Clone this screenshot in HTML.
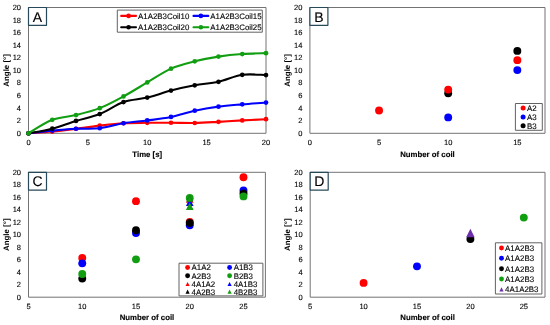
<!DOCTYPE html>
<html><head><meta charset="utf-8"><title>Figure</title>
<style>
html,body{margin:0;padding:0;background:#fff;}
body{width:550px;height:325px;overflow:hidden;}
svg{display:block;filter:blur(0.32px);stroke-linejoin:round;text-rendering:geometricPrecision;font-family:"Liberation Sans",Arial,sans-serif;fill:#000;}
</style></head><body>
<svg width="550" height="325" viewBox="0 0 550 325">
<rect x="0" y="0" width="550" height="325" fill="#ffffff"/>
<rect x="28.5" y="7.5" width="237.5" height="125.80000000000001" fill="#fff" stroke="#737373" stroke-width="1"/>
<text x="21.00" y="135.75" font-size="7.5" text-anchor="end" stroke="#000" stroke-width="0.12">0</text>
<text x="21.00" y="123.17" font-size="7.5" text-anchor="end" stroke="#000" stroke-width="0.12">2</text>
<text x="21.00" y="110.59" font-size="7.5" text-anchor="end" stroke="#000" stroke-width="0.12">4</text>
<text x="21.00" y="98.01" font-size="7.5" text-anchor="end" stroke="#000" stroke-width="0.12">6</text>
<text x="21.00" y="85.43" font-size="7.5" text-anchor="end" stroke="#000" stroke-width="0.12">8</text>
<text x="21.00" y="72.85" font-size="7.5" text-anchor="end" stroke="#000" stroke-width="0.12">10</text>
<text x="21.00" y="60.27" font-size="7.5" text-anchor="end" stroke="#000" stroke-width="0.12">12</text>
<text x="21.00" y="47.69" font-size="7.5" text-anchor="end" stroke="#000" stroke-width="0.12">14</text>
<text x="21.00" y="35.11" font-size="7.5" text-anchor="end" stroke="#000" stroke-width="0.12">16</text>
<text x="21.00" y="22.53" font-size="7.5" text-anchor="end" stroke="#000" stroke-width="0.12">18</text>
<text x="21.00" y="9.95" font-size="7.5" text-anchor="end" stroke="#000" stroke-width="0.12">20</text>
<text x="28.50" y="145.20" font-size="7.5" text-anchor="middle" stroke="#000" stroke-width="0.12">0</text>
<text x="87.88" y="145.20" font-size="7.5" text-anchor="middle" stroke="#000" stroke-width="0.12">5</text>
<text x="147.25" y="145.20" font-size="7.5" text-anchor="middle" stroke="#000" stroke-width="0.12">10</text>
<text x="206.62" y="145.20" font-size="7.5" text-anchor="middle" stroke="#000" stroke-width="0.12">15</text>
<text x="266.00" y="145.20" font-size="7.5" text-anchor="middle" stroke="#000" stroke-width="0.12">20</text>
<text x="147.25" y="156.70" font-size="7.8" text-anchor="middle" stroke="#000" stroke-width="0.12" font-weight="bold">Time [s]</text>
<text transform="translate(9.3,70.40) rotate(-90)" font-size="7.9" font-weight="bold" text-anchor="middle">Angle [°]</text>
<rect x="28.5" y="7.5" width="18" height="17.8" fill="#fff" stroke="#27495a" stroke-width="1.2"/>
<text x="37.50" y="21.50" font-size="14" text-anchor="middle" stroke="#000" stroke-width="0.12">A</text>
<path d="M28.50,133.30 C32.46,133.01 44.33,132.29 52.25,131.54 C60.17,130.78 68.08,129.76 76.00,128.77 C83.92,127.79 91.83,126.55 99.75,125.63 C107.67,124.70 115.58,123.71 123.50,123.24 C131.42,122.76 139.33,122.88 147.25,122.80 C155.17,122.71 163.08,122.70 171.00,122.73 C178.92,122.76 186.83,123.13 194.75,122.98 C202.67,122.84 210.58,122.28 218.50,121.85 C226.42,121.42 234.33,120.85 242.25,120.41 C250.17,119.97 262.04,119.41 266.00,119.21" fill="none" stroke="#ff0000" stroke-width="2.1" stroke-linecap="round" stroke-linejoin="round"/>
<circle cx="28.50" cy="133.30" r="2.35" fill="#ff0000"/>
<circle cx="52.25" cy="131.54" r="2.35" fill="#ff0000"/>
<circle cx="76.00" cy="128.77" r="2.35" fill="#ff0000"/>
<circle cx="99.75" cy="125.63" r="2.35" fill="#ff0000"/>
<circle cx="123.50" cy="123.24" r="2.35" fill="#ff0000"/>
<circle cx="147.25" cy="122.80" r="2.35" fill="#ff0000"/>
<circle cx="171.00" cy="122.73" r="2.35" fill="#ff0000"/>
<circle cx="194.75" cy="122.98" r="2.35" fill="#ff0000"/>
<circle cx="218.50" cy="121.85" r="2.35" fill="#ff0000"/>
<circle cx="242.25" cy="120.41" r="2.35" fill="#ff0000"/>
<circle cx="266.00" cy="119.21" r="2.35" fill="#ff0000"/>
<path d="M28.50,133.30 C32.46,132.85 44.33,131.35 52.25,130.60 C60.17,129.84 68.08,129.16 76.00,128.77 C83.92,128.38 91.83,129.19 99.75,128.27 C107.67,127.35 115.58,124.54 123.50,123.24 C131.42,121.94 139.33,121.52 147.25,120.47 C155.17,119.42 163.08,118.57 171.00,116.95 C178.92,115.32 186.83,112.44 194.75,110.72 C202.67,109.00 210.58,107.69 218.50,106.63 C226.42,105.57 234.33,105.05 242.25,104.37 C250.17,103.68 262.04,102.85 266.00,102.54" fill="none" stroke="#0000ff" stroke-width="2.1" stroke-linecap="round" stroke-linejoin="round"/>
<circle cx="28.50" cy="133.30" r="2.35" fill="#0000ff"/>
<circle cx="52.25" cy="130.60" r="2.35" fill="#0000ff"/>
<circle cx="76.00" cy="128.77" r="2.35" fill="#0000ff"/>
<circle cx="99.75" cy="128.27" r="2.35" fill="#0000ff"/>
<circle cx="123.50" cy="123.24" r="2.35" fill="#0000ff"/>
<circle cx="147.25" cy="120.47" r="2.35" fill="#0000ff"/>
<circle cx="171.00" cy="116.95" r="2.35" fill="#0000ff"/>
<circle cx="194.75" cy="110.72" r="2.35" fill="#0000ff"/>
<circle cx="218.50" cy="106.63" r="2.35" fill="#0000ff"/>
<circle cx="242.25" cy="104.37" r="2.35" fill="#0000ff"/>
<circle cx="266.00" cy="102.54" r="2.35" fill="#0000ff"/>
<path d="M28.50,133.30 C32.46,132.53 44.33,130.77 52.25,128.71 C60.17,126.64 68.08,123.35 76.00,120.91 C83.92,118.47 91.83,117.20 99.75,114.05 C107.67,110.91 115.58,104.79 123.50,102.04 C131.42,99.29 139.33,99.49 147.25,97.57 C155.17,95.65 163.08,92.57 171.00,90.53 C178.92,88.48 186.83,86.76 194.75,85.31 C202.67,83.85 210.58,83.54 218.50,81.78 C226.42,80.03 234.33,75.92 242.25,74.80 C250.17,73.68 262.04,75.01 266.00,75.05" fill="none" stroke="#000000" stroke-width="2.1" stroke-linecap="round" stroke-linejoin="round"/>
<circle cx="28.50" cy="133.30" r="2.35" fill="#000000"/>
<circle cx="52.25" cy="128.71" r="2.35" fill="#000000"/>
<circle cx="76.00" cy="120.91" r="2.35" fill="#000000"/>
<circle cx="99.75" cy="114.05" r="2.35" fill="#000000"/>
<circle cx="123.50" cy="102.04" r="2.35" fill="#000000"/>
<circle cx="147.25" cy="97.57" r="2.35" fill="#000000"/>
<circle cx="171.00" cy="90.53" r="2.35" fill="#000000"/>
<circle cx="194.75" cy="85.31" r="2.35" fill="#000000"/>
<circle cx="218.50" cy="81.78" r="2.35" fill="#000000"/>
<circle cx="242.25" cy="74.80" r="2.35" fill="#000000"/>
<circle cx="266.00" cy="75.05" r="2.35" fill="#000000"/>
<path d="M28.50,133.30 C32.46,131.05 44.33,122.82 52.25,119.78 C60.17,116.74 68.08,117.00 76.00,115.06 C83.92,113.12 91.83,111.25 99.75,108.14 C107.67,105.03 115.58,100.67 123.50,96.38 C131.42,92.09 139.33,87.04 147.25,82.41 C155.17,77.79 163.08,72.15 171.00,68.64 C178.92,65.13 186.83,63.34 194.75,61.34 C202.67,59.34 210.58,57.84 218.50,56.62 C226.42,55.41 234.33,54.62 242.25,54.05 C250.17,53.47 262.04,53.31 266.00,53.17" fill="none" stroke="#129e12" stroke-width="2.1" stroke-linecap="round" stroke-linejoin="round"/>
<circle cx="28.50" cy="133.30" r="2.35" fill="#129e12"/>
<circle cx="52.25" cy="119.78" r="2.35" fill="#129e12"/>
<circle cx="76.00" cy="115.06" r="2.35" fill="#129e12"/>
<circle cx="99.75" cy="108.14" r="2.35" fill="#129e12"/>
<circle cx="123.50" cy="96.38" r="2.35" fill="#129e12"/>
<circle cx="147.25" cy="82.41" r="2.35" fill="#129e12"/>
<circle cx="171.00" cy="68.64" r="2.35" fill="#129e12"/>
<circle cx="194.75" cy="61.34" r="2.35" fill="#129e12"/>
<circle cx="218.50" cy="56.62" r="2.35" fill="#129e12"/>
<circle cx="242.25" cy="54.05" r="2.35" fill="#129e12"/>
<circle cx="266.00" cy="53.17" r="2.35" fill="#129e12"/>
<rect x="117.3" y="10.1" width="145" height="22.1" fill="#fff" stroke="#626262" stroke-width="1"/>
 <line x1="121.2" y1="15.9" x2="136.0" y2="15.9" stroke="#ff0000" stroke-width="2.1" stroke-linecap="round"/>
<circle cx="128.60" cy="15.90" r="2.3" fill="#ff0000"/>
<text x="138.00" y="18.75" font-size="7.9" text-anchor="start" stroke="#000" stroke-width="0.12">A1A2B3Coil10</text>
 <line x1="193.5" y1="15.9" x2="208.3" y2="15.9" stroke="#0000ff" stroke-width="2.1" stroke-linecap="round"/>
<circle cx="200.90" cy="15.90" r="2.3" fill="#0000ff"/>
<text x="210.30" y="18.75" font-size="7.9" text-anchor="start" stroke="#000" stroke-width="0.12">A1A2B3Coil15</text>
 <line x1="121.2" y1="27.3" x2="136.0" y2="27.3" stroke="#000000" stroke-width="2.1" stroke-linecap="round"/>
<circle cx="128.60" cy="27.30" r="2.3" fill="#000000"/>
<text x="138.00" y="30.15" font-size="7.9" text-anchor="start" stroke="#000" stroke-width="0.12">A1A2B3Coil20</text>
 <line x1="193.5" y1="27.3" x2="208.3" y2="27.3" stroke="#129e12" stroke-width="2.1" stroke-linecap="round"/>
<circle cx="200.90" cy="27.30" r="2.3" fill="#129e12"/>
<text x="210.30" y="30.15" font-size="7.9" text-anchor="start" stroke="#000" stroke-width="0.12">A1A2B3Coil25</text>
<rect x="309.9" y="7.5" width="235.10000000000002" height="125.80000000000001" fill="#fff" stroke="#737373" stroke-width="1"/>
<text x="302.40" y="135.75" font-size="7.5" text-anchor="end" stroke="#000" stroke-width="0.12">0</text>
<text x="302.40" y="123.17" font-size="7.5" text-anchor="end" stroke="#000" stroke-width="0.12">2</text>
<text x="302.40" y="110.59" font-size="7.5" text-anchor="end" stroke="#000" stroke-width="0.12">4</text>
<text x="302.40" y="98.01" font-size="7.5" text-anchor="end" stroke="#000" stroke-width="0.12">6</text>
<text x="302.40" y="85.43" font-size="7.5" text-anchor="end" stroke="#000" stroke-width="0.12">8</text>
<text x="302.40" y="72.85" font-size="7.5" text-anchor="end" stroke="#000" stroke-width="0.12">10</text>
<text x="302.40" y="60.27" font-size="7.5" text-anchor="end" stroke="#000" stroke-width="0.12">12</text>
<text x="302.40" y="47.69" font-size="7.5" text-anchor="end" stroke="#000" stroke-width="0.12">14</text>
<text x="302.40" y="35.11" font-size="7.5" text-anchor="end" stroke="#000" stroke-width="0.12">16</text>
<text x="302.40" y="22.53" font-size="7.5" text-anchor="end" stroke="#000" stroke-width="0.12">18</text>
<text x="302.40" y="9.95" font-size="7.5" text-anchor="end" stroke="#000" stroke-width="0.12">20</text>
<text x="309.90" y="145.20" font-size="7.5" text-anchor="middle" stroke="#000" stroke-width="0.12">0</text>
<text x="379.05" y="145.20" font-size="7.5" text-anchor="middle" stroke="#000" stroke-width="0.12">5</text>
<text x="448.19" y="145.20" font-size="7.5" text-anchor="middle" stroke="#000" stroke-width="0.12">10</text>
<text x="517.34" y="145.20" font-size="7.5" text-anchor="middle" stroke="#000" stroke-width="0.12">15</text>
<text x="427.45" y="156.70" font-size="7.8" text-anchor="middle" stroke="#000" stroke-width="0.12" font-weight="bold">Number of coil</text>
<text transform="translate(289.7,70.40) rotate(-90)" font-size="7.9" font-weight="bold" text-anchor="middle">Angle [°]</text>
<rect x="309.9" y="7.5" width="18" height="17.8" fill="#fff" stroke="#27495a" stroke-width="1.2"/>
<text x="318.90" y="21.50" font-size="14" text-anchor="middle" stroke="#000" stroke-width="0.12">B</text>
<circle cx="448.19" cy="117.39" r="3.95" fill="#0000ff"/>
<circle cx="517.34" cy="70.09" r="3.95" fill="#0000ff"/>
<circle cx="448.19" cy="93.30" r="3.95" fill="#000000"/>
<circle cx="517.34" cy="50.90" r="3.95" fill="#000000"/>
<circle cx="379.05" cy="110.47" r="3.95" fill="#ff0000"/>
<circle cx="448.19" cy="89.58" r="3.95" fill="#ff0000"/>
<circle cx="517.34" cy="60.15" r="3.95" fill="#ff0000"/>
<rect x="515.4" y="103.5" width="26.9" height="26.8" fill="#fff" stroke="#626262" stroke-width="1"/>
<circle cx="523.10" cy="108.00" r="2.5" fill="#ff0000"/>
<text x="527.00" y="110.85" font-size="7.9" text-anchor="start" stroke="#000" stroke-width="0.12">A2</text>
<circle cx="523.10" cy="116.90" r="2.5" fill="#0000ff"/>
<text x="527.00" y="119.75" font-size="7.9" text-anchor="start" stroke="#000" stroke-width="0.12">A3</text>
<circle cx="523.10" cy="125.80" r="2.5" fill="#000000"/>
<text x="527.00" y="128.65" font-size="7.9" text-anchor="start" stroke="#000" stroke-width="0.12">B3</text>
<rect x="28.5" y="172.3" width="236.89999999999998" height="124.89999999999998" fill="#fff" stroke="#737373" stroke-width="1"/>
<text x="21.00" y="299.65" font-size="7.5" text-anchor="end" stroke="#000" stroke-width="0.12">0</text>
<text x="21.00" y="287.16" font-size="7.5" text-anchor="end" stroke="#000" stroke-width="0.12">2</text>
<text x="21.00" y="274.67" font-size="7.5" text-anchor="end" stroke="#000" stroke-width="0.12">4</text>
<text x="21.00" y="262.18" font-size="7.5" text-anchor="end" stroke="#000" stroke-width="0.12">6</text>
<text x="21.00" y="249.69" font-size="7.5" text-anchor="end" stroke="#000" stroke-width="0.12">8</text>
<text x="21.00" y="237.20" font-size="7.5" text-anchor="end" stroke="#000" stroke-width="0.12">10</text>
<text x="21.00" y="224.71" font-size="7.5" text-anchor="end" stroke="#000" stroke-width="0.12">12</text>
<text x="21.00" y="212.22" font-size="7.5" text-anchor="end" stroke="#000" stroke-width="0.12">14</text>
<text x="21.00" y="199.73" font-size="7.5" text-anchor="end" stroke="#000" stroke-width="0.12">16</text>
<text x="21.00" y="187.24" font-size="7.5" text-anchor="end" stroke="#000" stroke-width="0.12">18</text>
<text x="21.00" y="174.75" font-size="7.5" text-anchor="end" stroke="#000" stroke-width="0.12">20</text>
<text x="28.50" y="309.10" font-size="7.5" text-anchor="middle" stroke="#000" stroke-width="0.12">5</text>
<text x="82.25" y="309.10" font-size="7.5" text-anchor="middle" stroke="#000" stroke-width="0.12">10</text>
<text x="136.00" y="309.10" font-size="7.5" text-anchor="middle" stroke="#000" stroke-width="0.12">15</text>
<text x="189.75" y="309.10" font-size="7.5" text-anchor="middle" stroke="#000" stroke-width="0.12">20</text>
<text x="243.50" y="309.10" font-size="7.5" text-anchor="middle" stroke="#000" stroke-width="0.12">25</text>
<text x="146.95" y="320.10" font-size="7.8" text-anchor="middle" stroke="#000" stroke-width="0.12" font-weight="bold">Number of coil</text>
<text transform="translate(9.3,234.75) rotate(-90)" font-size="7.9" font-weight="bold" text-anchor="middle">Angle [°]</text>
<rect x="28.5" y="172.3" width="18" height="17.8" fill="#fff" stroke="#27495a" stroke-width="1.2"/>
<text x="37.50" y="186.30" font-size="14" text-anchor="middle" stroke="#000" stroke-width="0.12">C</text>
<circle cx="82.25" cy="257.92" r="3.95" fill="#ff0000"/>
<circle cx="136.00" cy="201.15" r="3.95" fill="#ff0000"/>
<circle cx="189.75" cy="222.07" r="3.95" fill="#ff0000"/>
<circle cx="243.50" cy="177.30" r="3.95" fill="#ff0000"/>
<circle cx="82.25" cy="263.35" r="3.95" fill="#0000ff"/>
<circle cx="136.00" cy="233.00" r="3.95" fill="#0000ff"/>
<circle cx="189.75" cy="225.26" r="3.95" fill="#0000ff"/>
<circle cx="243.50" cy="190.41" r="3.95" fill="#0000ff"/>
<circle cx="82.25" cy="278.59" r="3.95" fill="#000000"/>
<circle cx="136.00" cy="230.19" r="3.95" fill="#000000"/>
<circle cx="189.75" cy="222.88" r="3.95" fill="#000000"/>
<circle cx="243.50" cy="193.53" r="3.95" fill="#000000"/>
<circle cx="82.25" cy="273.97" r="3.95" fill="#129e12"/>
<circle cx="136.00" cy="259.36" r="3.95" fill="#129e12"/>
<circle cx="243.50" cy="196.41" r="3.95" fill="#129e12"/>
<polygon points="189.75,195.20 185.95,202.80 193.55,202.80" fill="#ff0000"/>
<polygon points="189.75,198.40 185.95,206.00 193.55,206.00" fill="#0000ff"/>
<circle cx="189.75" cy="197.90" r="3.95" fill="#129e12"/>
<polygon points="189.75,203.20 186.75,209.20 192.75,209.20" fill="#000000"/>
<polygon points="189.75,202.40 185.95,210.00 193.55,210.00" fill="#129e12"/>
<polygon points="189.75,195.3 186.85,201.6 192.65,201.6" fill="none" stroke="#0b7d0b" stroke-width="0.6" stroke-linejoin="round"/>
<rect x="179" y="263.2" width="83.9" height="32.7" fill="#fff" stroke="#626262" stroke-width="1"/>
<circle cx="187.60" cy="267.50" r="2.45" fill="#ff0000"/>
<text x="191.50" y="270.35" font-size="7.9" text-anchor="start" stroke="#000" stroke-width="0.12">A1A2</text>
<circle cx="229.60" cy="267.50" r="2.45" fill="#0000ff"/>
<text x="233.70" y="270.35" font-size="7.9" text-anchor="start" stroke="#000" stroke-width="0.12">A1B3</text>
<circle cx="187.60" cy="275.80" r="2.45" fill="#000000"/>
<text x="191.50" y="278.65" font-size="7.9" text-anchor="start" stroke="#000" stroke-width="0.12">A2B3</text>
<circle cx="229.60" cy="275.80" r="2.45" fill="#129e12"/>
<text x="233.70" y="278.65" font-size="7.9" text-anchor="start" stroke="#000" stroke-width="0.12">B2B3</text>
<polygon points="187.60,281.90 185.50,286.10 189.70,286.10" fill="#ff0000"/>
<text x="191.50" y="286.85" font-size="7.9" text-anchor="start" stroke="#000" stroke-width="0.12">4A1A2</text>
<polygon points="229.60,281.90 227.50,286.10 231.70,286.10" fill="#0000ff"/>
<text x="233.70" y="286.85" font-size="7.9" text-anchor="start" stroke="#000" stroke-width="0.12">4A1B3</text>
<polygon points="187.60,289.60 185.50,293.80 189.70,293.80" fill="#000000"/>
<text x="191.50" y="294.55" font-size="7.9" text-anchor="start" stroke="#000" stroke-width="0.12">4A2B3</text>
<polygon points="229.60,289.60 227.50,293.80 231.70,293.80" fill="#129e12"/>
<text x="233.70" y="294.55" font-size="7.9" text-anchor="start" stroke="#000" stroke-width="0.12">4B2B3</text>
<rect x="310.2" y="172.3" width="234.8" height="124.89999999999998" fill="#fff" stroke="#737373" stroke-width="1"/>
<text x="302.70" y="299.65" font-size="7.5" text-anchor="end" stroke="#000" stroke-width="0.12">0</text>
<text x="302.70" y="287.16" font-size="7.5" text-anchor="end" stroke="#000" stroke-width="0.12">2</text>
<text x="302.70" y="274.67" font-size="7.5" text-anchor="end" stroke="#000" stroke-width="0.12">4</text>
<text x="302.70" y="262.18" font-size="7.5" text-anchor="end" stroke="#000" stroke-width="0.12">6</text>
<text x="302.70" y="249.69" font-size="7.5" text-anchor="end" stroke="#000" stroke-width="0.12">8</text>
<text x="302.70" y="237.20" font-size="7.5" text-anchor="end" stroke="#000" stroke-width="0.12">10</text>
<text x="302.70" y="224.71" font-size="7.5" text-anchor="end" stroke="#000" stroke-width="0.12">12</text>
<text x="302.70" y="212.22" font-size="7.5" text-anchor="end" stroke="#000" stroke-width="0.12">14</text>
<text x="302.70" y="199.73" font-size="7.5" text-anchor="end" stroke="#000" stroke-width="0.12">16</text>
<text x="302.70" y="187.24" font-size="7.5" text-anchor="end" stroke="#000" stroke-width="0.12">18</text>
<text x="302.70" y="174.75" font-size="7.5" text-anchor="end" stroke="#000" stroke-width="0.12">20</text>
<text x="310.20" y="309.10" font-size="7.5" text-anchor="middle" stroke="#000" stroke-width="0.12">5</text>
<text x="363.60" y="309.10" font-size="7.5" text-anchor="middle" stroke="#000" stroke-width="0.12">10</text>
<text x="417.00" y="309.10" font-size="7.5" text-anchor="middle" stroke="#000" stroke-width="0.12">15</text>
<text x="470.40" y="309.10" font-size="7.5" text-anchor="middle" stroke="#000" stroke-width="0.12">20</text>
<text x="523.80" y="309.10" font-size="7.5" text-anchor="middle" stroke="#000" stroke-width="0.12">25</text>
<text x="427.60" y="320.10" font-size="7.8" text-anchor="middle" stroke="#000" stroke-width="0.12" font-weight="bold">Number of coil</text>
<text transform="translate(289.7,234.75) rotate(-90)" font-size="7.9" font-weight="bold" text-anchor="middle">Angle [°]</text>
<rect x="310.2" y="172.3" width="18" height="17.8" fill="#fff" stroke="#27495a" stroke-width="1.2"/>
<text x="319.20" y="186.30" font-size="14" text-anchor="middle" stroke="#000" stroke-width="0.12">D</text>
<circle cx="363.60" cy="282.90" r="3.95" fill="#ff0000"/>
<circle cx="417.00" cy="266.35" r="3.95" fill="#0000ff"/>
<circle cx="470.40" cy="239.12" r="3.95" fill="#000000"/>
<circle cx="523.80" cy="217.58" r="3.95" fill="#129e12"/>
<polygon points="470.40,228.80 466.15,237.30 474.65,237.30" fill="#6e30aa"/>
<rect x="495.4" y="242.8" width="46.5" height="51.2" fill="#fff" stroke="#626262" stroke-width="1"/>
<circle cx="501.50" cy="248.00" r="2.45" fill="#ff0000"/>
<text x="505.10" y="250.85" font-size="7.9" text-anchor="start" stroke="#000" stroke-width="0.12">A1A2B3</text>
<circle cx="501.50" cy="258.30" r="2.45" fill="#0000ff"/>
<text x="505.10" y="261.15" font-size="7.9" text-anchor="start" stroke="#000" stroke-width="0.12">A1A2B3</text>
<circle cx="501.50" cy="268.70" r="2.45" fill="#000000"/>
<text x="505.10" y="271.55" font-size="7.9" text-anchor="start" stroke="#000" stroke-width="0.12">A1A2B3</text>
<circle cx="501.50" cy="279.00" r="2.45" fill="#129e12"/>
<text x="505.10" y="281.85" font-size="7.9" text-anchor="start" stroke="#000" stroke-width="0.12">A1A2B3</text>
<polygon points="501.50,287.20 499.40,291.40 503.60,291.40" fill="#6e30aa"/>
<text x="505.10" y="292.15" font-size="7.9" text-anchor="start" stroke="#000" stroke-width="0.12">4A1A2B3</text>
</svg>
</body></html>
